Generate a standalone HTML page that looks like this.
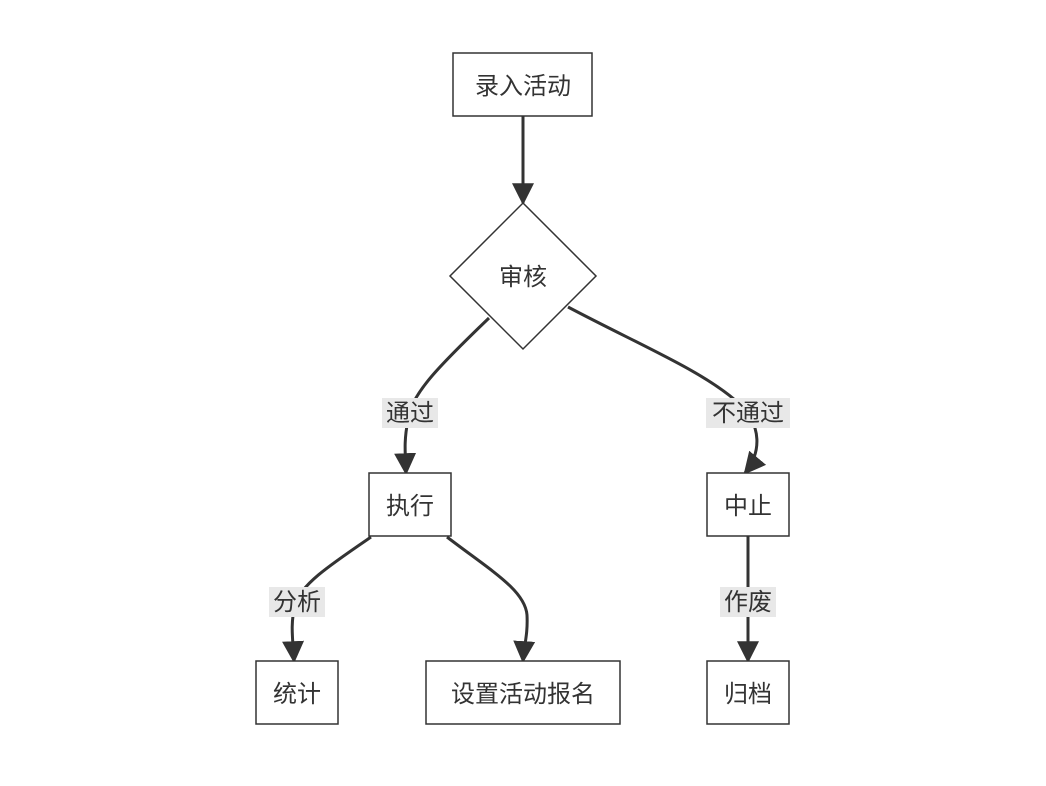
<!DOCTYPE html>
<html><head><meta charset="utf-8"><style>
body{margin:0;background:#fff;}
svg text{font-family:"Liberation Sans","Noto Sans CJK SC",sans-serif;font-size:24px;fill:#333;}
</style></head><body>
<svg width="1046" height="781" xmlns="http://www.w3.org/2000/svg">
<defs><marker id="a" markerWidth="10" markerHeight="10" refX="7" refY="5" orient="auto" markerUnits="userSpaceOnUse" viewBox="0 0 10 10"><path d="M0,0 L10,5 L0,10 z" fill="#333"/></marker>
<marker id="b" viewBox="0 0 10 10" refX="9" refY="5" markerWidth="22" markerHeight="22" orient="auto" markerUnits="userSpaceOnUse"><path d="M0,0 L10,5 L0,10 z" fill="#333"/></marker></defs>
<g fill="none" stroke="#333" stroke-width="3">
<path d="M523,116 L523,203" marker-end="url(#b)"/>
<path d="M489,318 C440,365 410,395 408,420 C404,440 405,450 406,473" marker-end="url(#b)"/>
<path d="M568,307 C640,345 700,370 735,400 C765,425 760,455 745,473" marker-end="url(#b)"/>
<path d="M371,537 C330,565 300,585 295,605 C290,625 293,640 294,661" marker-end="url(#b)"/>
<path d="M447,537 C490,570 525,590 527,615 C528,635 524,645 523,661" marker-end="url(#b)"/>
<path d="M748,536 L748,661" marker-end="url(#b)"/>
</g>
<g fill="#fff" stroke="#333" stroke-width="1.5">
<rect x="453" y="53" width="139" height="63"/>
<polygon points="523,203 596,276 523,349 450,276"/>
<rect x="369" y="473" width="82" height="63"/>
<rect x="707" y="473" width="82" height="63"/>
<rect x="256" y="661" width="82" height="63"/>
<rect x="426" y="661" width="194" height="63"/>
<rect x="707" y="661" width="82" height="63"/>
</g>
<g fill="#e8e8e8">
<rect x="382" y="398" width="56" height="30"/>
<rect x="706" y="398" width="84" height="30"/>
<rect x="269" y="587" width="56" height="30"/>
<rect x="720" y="587" width="56" height="30"/>
</g>
<g text-anchor="middle">
<text x="523" y="94">录入活动</text>
<text x="523" y="285">审核</text>
<text x="410" y="421">通过</text>
<text x="748" y="421">不通过</text>
<text x="410" y="514">执行</text>
<text x="748" y="514">中止</text>
<text x="297" y="610">分析</text>
<text x="748" y="610">作废</text>
<text x="297" y="702">统计</text>
<text x="523" y="702">设置活动报名</text>
<text x="748" y="702">归档</text>
</g>
</svg>
</body></html>
